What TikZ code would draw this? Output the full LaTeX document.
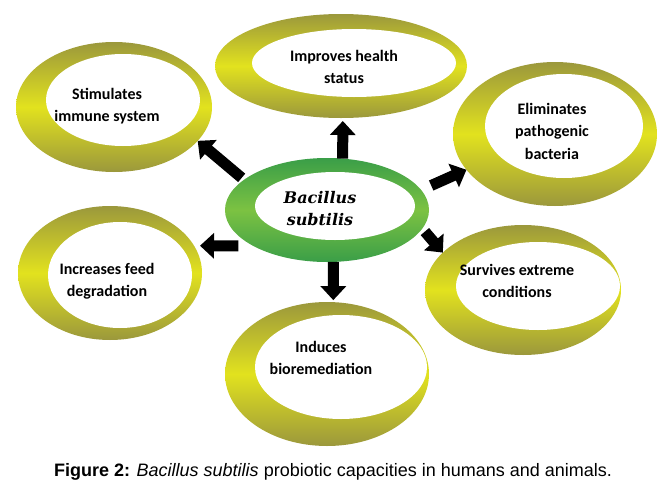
\documentclass[tikz,border=0pt]{standalone}
\usepackage{fontspec}
\setmainfont{Carlito}
\newfontfamily\capfont{Liberation Sans}
\newfontfamily\slabfont{DejaVu Serif}
\usetikzlibrary{shapes.geometric,arrows.meta}
\definecolor{ringdark}{RGB}{155,152,60}
\definecolor{ringlight}{RGB}{226,226,30}
\definecolor{hubdark}{RGB}{58,158,72}
\definecolor{hublight}{RGB}{124,194,66}

\begin{document}
\begin{tikzpicture}[x=1pt, y=-1pt,
    ring/.style={ellipse, inner sep=0pt, outer sep=0pt, top color=ringdark, bottom color=ringdark, middle color=ringlight},
    hubring/.style={ring, top color=hubdark, bottom color=hubdark, middle color=hublight},
    hole/.style={ellipse, inner sep=0pt, outer sep=0pt, fill=white},
    txt/.style={align=center, font=\bfseries\fontsize{16}{22.5}\selectfont},
    bigarrow/.style={line width=11pt, -{Triangle[width=25pt,length=14pt]}}]
    \useasboundingbox (0,0) rectangle (665,493);

    % Rings
    \node[ring, minimum width=196pt, minimum height=130pt] (immune) at (114,107) {};
    \node[hole, minimum width=154pt, minimum height=92pt] (immune-in) at (123,100) {};
    \node[txt] (immune-txt) at (107,106) {Stimulates\\immune system};

    \node[ring, minimum width=252pt, minimum height=104pt] (health) at (341,66) {};
    \node[hole, minimum width=204pt, minimum height=68pt] (health-in) at (354,63) {};
    \node[txt] (health-txt) at (344,67) {Improves health\\status};

    \node[ring, minimum width=204pt, minimum height=144pt] (pathogen) at (555,134) {};
    \node[hole, minimum width=158pt, minimum height=104pt] (pathogen-in) at (564,126) {};
    \node[txt] (pathogen-txt) at (552,131) {Eliminates\\pathogenic\\bacteria};

    \node[ring, minimum width=184pt, minimum height=134pt] (feed) at (110,273) {};
    \node[hole, minimum width=144pt, minimum height=106pt] (feed-in) at (120,275) {};
    \node[txt] (feed-txt) at (107,281) {Increases feed\\degradation};

    \node[ring, minimum width=196pt, minimum height=130pt] (extreme) at (523,290) {};
    \node[hole, minimum width=164pt, minimum height=88pt] (extreme-in) at (538,286) {};
    \node[txt] (extreme-txt) at (517,281) {Survives extreme\\conditions};

    \node[ring, minimum width=204pt, minimum height=144pt] (remed) at (327,374) {};
    \node[hole, minimum width=172pt, minimum height=104pt] (remed-in) at (341,367) {};
    \node[txt] (remed-txt) at (321,358) {Induces\\bioremediation};

    % Bacillus hub
    \node[hubring, minimum width=204pt, minimum height=104pt] (bacillus) at (327,210) {};
    \node[hole, minimum width=160pt, minimum height=68pt] (bacillus-in) at (335,206) {};
    \node[align=center, font=\slabfont\bfseries\itshape\fontsize{16}{22}\selectfont] (bacillus-txt) at (320,209) {Bacillus\\subtilis};

    % Arrows
    \draw[bigarrow, shorten <=3pt] (bacillus.160) -- (immune.-22);
    \draw[bigarrow, shorten >=3pt] (bacillus.73) -- (health.-88);
    \draw[bigarrow, shorten <=11pt] (bacillus.12) -- (pathogen.202);
    \draw[bigarrow, shorten <=4pt] (bacillus.-11) -- (extreme.155);
    \draw[bigarrow, shorten <=15pt, shorten >=6pt] (bacillus.206) -- (feed.18);
    \draw[bigarrow, shorten >=2pt] (bacillus.-83) -- (remed.85);

    % Caption
    \node[font=\capfont\fontsize{18}{21}\selectfont] (caption) at (333,472)
        {\textbf{Figure 2:} \textit{Bacillus subtilis} probiotic capacities in humans and animals.};
\end{tikzpicture}
\end{document}
